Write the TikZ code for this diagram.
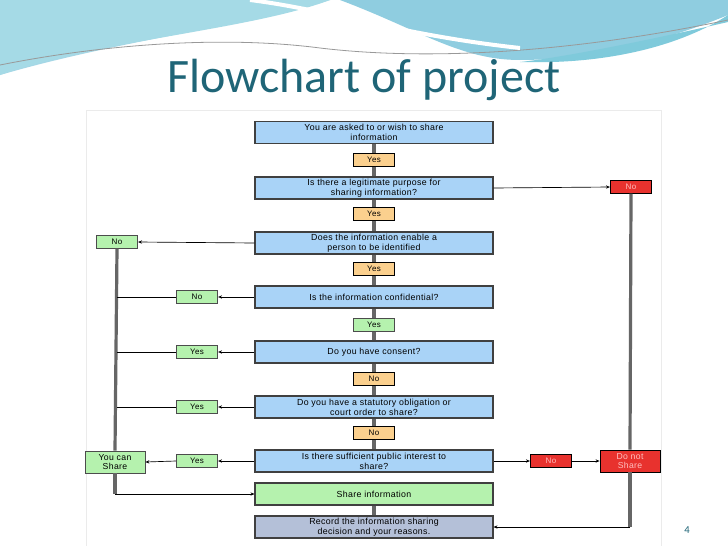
\documentclass[tikz,border=0pt]{standalone}
\usepackage{fontspec}
\setmainfont{Liberation Sans}[LetterSpace=4]
\newfontfamily\titlefont{Carlito}
\usetikzlibrary{arrows.meta}
\definecolor{boxblue}{HTML}{A9D3F7}
\definecolor{boxorange}{HTML}{FBD08E}
\definecolor{boxgreen}{HTML}{B5F2AE}
\definecolor{boxred}{HTML}{E8322E}
\definecolor{boxgrey}{HTML}{B4C0D8}
\definecolor{titlecol}{HTML}{1F6577}
\definecolor{wave1}{HTML}{8FCDE0}
\definecolor{wave2}{HTML}{7FCADB}
\begin{document}
\begin{tikzpicture}[x=0.75pt,y=-0.75pt,
  main/.style={draw=black!75,line width=0.8pt,fill=boxblue,minimum width=178.5pt,minimum height=16.5pt,inner sep=0pt,align=center,font=\fontsize{6.6}{7.4}\selectfont},
  lab/.style={draw=black,line width=0.6pt,minimum width=31pt,minimum height=9.5pt,inner sep=0pt,font=\fontsize{6}{6}\selectfont},
  ylab/.style={lab,fill=boxorange},
  glab/.style={lab,fill=boxgreen,draw=black!70},
  rlab/.style={lab,fill=boxred,text=red!25},
  flow/.style={draw=black!60,line width=2.4pt},
  arr/.style={draw=black,line width=0.5pt,-{Stealth[length=3pt,width=2.5pt]}},
  thin/.style={draw=black,line width=0.5pt}]
\useasboundingbox (0,0) rectangle (728,546);
\fill[white] (0,0) rectangle (728,546);
% waves
\fill[wave1!80] (0,0) -- (330,0) .. controls (250,25) and (120,40) .. (0,75) -- cycle;
\fill[wave2!70] (0,75) .. controls (100,40) and (250,30) .. (330,0) -- (0,0) -- cycle;
\fill[wave1] (340,0) -- (728,0) -- (728,15) .. controls (680,35) and (600,60) .. (520,60) .. controls (460,60) and (420,30) .. (340,0) -- cycle;
\fill[wave2] (728,15) .. controls (690,40) and (620,65) .. (520,62) .. controls (560,58) and (650,40) .. (728,22) -- cycle;
\draw[black!40,line width=0.6pt] (0,65) .. controls (100,45) and (220,35) .. (320,48) .. controls (420,60) and (560,55) .. (728,20);
\draw[white,line width=3pt] (250,0) .. controls (330,10) and (400,35) .. (520,48);
\fill[white] (0,110) rectangle (728,546);
\draw[black!8,line width=0.6pt] (86,110) rectangle (661,546);
\node[font=\titlefont\fontsize{36}{38}\selectfont,text=titlecol] (title) at (364,80) {Flowchart of project};
\node[font=\titlefont\fontsize{8}{8}\selectfont,text=titlecol] (pg) at (687,530) {4};
% main column
\node[main] (b1) at (374,132.5) {You are asked to or wish to share\\information};
\node[ylab] (y1) at (374,160) {Yes};
\node[main] (b2) at (374,188) {Is there a legitimate purpose for\\sharing information?};
\node[ylab] (y2) at (374,214) {Yes};
\node[main] (b3) at (374,243) {Does the information enable a\\person to be identified};
\node[ylab] (y3) at (374,269) {Yes};
\node[main] (b4) at (374,297) {Is the information confidential?};
\node[glab] (y4) at (374,325) {Yes};
\node[main] (b5) at (374,352) {Do you have consent?};
\node[ylab] (n5) at (374,379) {No};
\node[main] (b6) at (374,407) {Do you have a statutory obligation or\\court order to share?};
\node[ylab] (n6) at (374,433) {No};
\node[main] (b7) at (374,461) {Is there sufficient public interest to\\share?};
\node[main,fill=boxgreen] (si) at (374,494) {Share information};
\node[main,fill=boxgrey] (rec) at (374,527) {Record the information sharing\\decision and your reasons.};
% side labels
\node[glab] (ln3) at (117,242) {No};
\node[glab] (ln4) at (197,297) {No};
\node[glab] (ly5) at (197,352) {Yes};
\node[glab] (ly6) at (197,407) {Yes};
\node[glab] (ly7) at (197,461) {Yes};
\node[glab,minimum width=45pt,minimum height=16.5pt,font=\fontsize{6.5}{7}\selectfont,align=center] (ycs) at (115,462) {You can\\Share};
\node[rlab] (rn2) at (631,187) {No};
\node[rlab] (rn7) at (551,461) {No};
\node[rlab,minimum width=45pt,minimum height=16.5pt,font=\fontsize{6.5}{7}\selectfont,align=center] (dns) at (630,461) {Do not\\Share};
% vertical flow
\foreach \a/\b in {b1/y1,y1/b2,b2/y2,y2/b3,b3/y3,y3/b4,b4/y4,y4/b5,b5/n5,n5/b6,b6/n6,n6/b7,si/rec}
  \draw[flow] (\a.south) -- (\b.north);
% right side
\draw[arr] (b2.east) -- (rn2.west);
\draw[flow] (rn2.south) -- (dns.north);
\draw[arr] (b7.east) -- (rn7.west);
\draw[arr] (rn7.east) -- (dns.west);
\coordinate (dr) at (dns.south |- rec.east);
\draw[flow] (dns.south) -- (dr);
\draw[arr] (dr) -- (rec.east);
% left side
\draw[arr] (b3.west) -- (ln3.east);
\draw[arr] (b4.west) -- (ln4.east);
\draw[arr] (b5.west) -- (ly5.east);
\draw[arr] (b6.west) -- (ly6.east);
\draw[arr] (b7.west) -- (ly7.east);
\draw[arr] (ly7.west) -- (ycs.east);
\draw[flow] (ln3.south) -- (ycs.north);
\draw[thin] (ln4.west) -- (ln4.west -| ln3.south);
\draw[thin] (ly5.west) -- (ly5.west -| ln3.south);
\draw[thin] (ly6.west) -- (ly6.west -| ln3.south);
\coordinate (dl) at (ycs.south |- si.west);
\draw[flow] (ycs.south) -- (dl);
\draw[arr] (dl) -- (si.west);
\end{tikzpicture}
\end{document}
